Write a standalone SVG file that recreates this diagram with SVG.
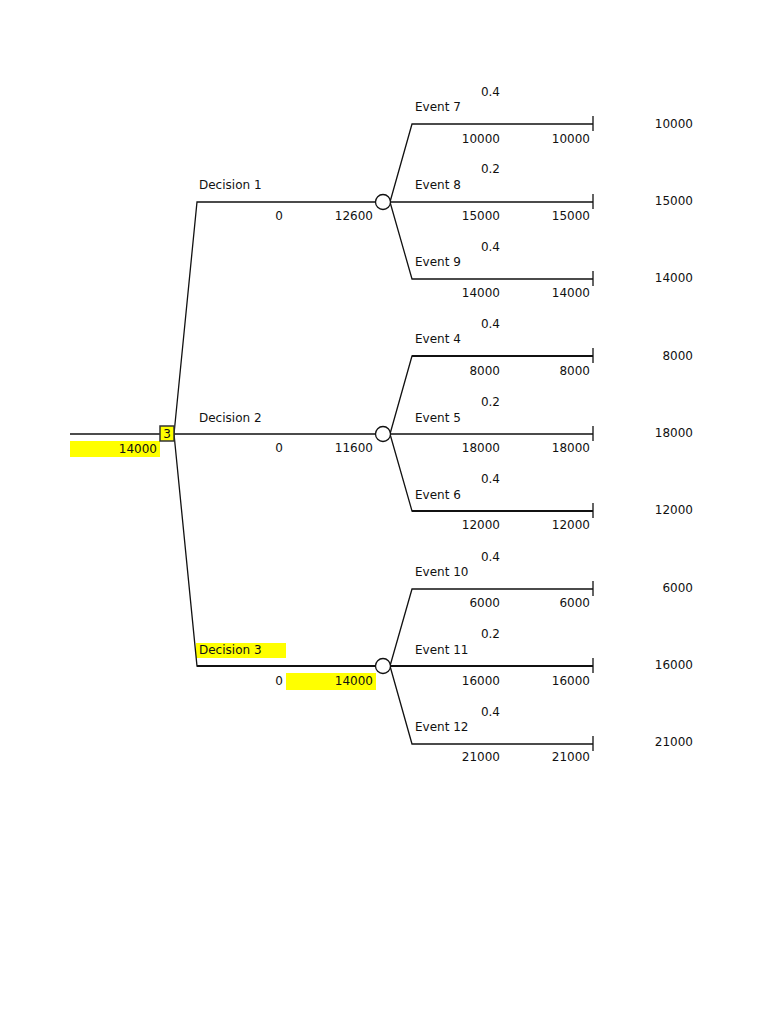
<svg xmlns="http://www.w3.org/2000/svg" width="768" height="1024" viewBox="0 0 768 1024">
<style>
text{font-family:"DejaVu Sans",Verdana,sans-serif;font-size:12px;fill:#111}
.r{text-anchor:end}
.l{stroke:#111;stroke-width:1.3;fill:none}
.b{stroke-width:2}
.hl{fill:#ffff00}
</style>
<rect fill="#fff" width="768" height="1024"/>
<g id="highlights">
<rect class="hl" x="70" y="441" width="90" height="16"/>
<rect class="hl" x="196" y="643" width="90" height="15"/>
<rect class="hl" x="286" y="673" width="90" height="17"/>
</g>
<g id="connectors">
<path class="l" d="M70 434H160"/>
<path class="l" d="M174 434L197 202H376M174 434H376M174 434L197 666H376"/>
<path class="l b" d="M197 666H376"/>
<path class="l" d="M390 202L412 124H593M390 202H593M390 202L412 279H593"/>
<path class="l" d="M390 434L412 356H593M390 434H593M390 434L412 511H593"/>
<path class="l b" d="M412 356H593M412 511H593"/>
<path class="l" d="M390 666L412 589H593M390 666H593M390 666L412 744H593"/>
<path class="l b" d="M390 666H593"/>
<path class="l" d="M593 116v15M593 194v15M593 271v15M593 348v15M593 426v15M593 503v15M593 581v15M593 658v15M593 736v15"/>
</g>
<g id="decision-node">
<rect x="160" y="426" width="14" height="15" fill="#ffff00" stroke="#333" stroke-width="1.5"/>
<text x="167" y="438" text-anchor="middle">3</text>
<text class="r" x="157" y="453">14000</text>
</g>
<g id="chance1"><circle cx="383" cy="202" r="7.5" fill="#fff" stroke="#111" stroke-width="1.3"/>
<text x="199" y="189">Decision 1</text><text class="r" x="283" y="220">0</text><text class="r" x="373" y="220">12600</text></g>
<g id="chance2"><circle cx="383" cy="434" r="7.5" fill="#fff" stroke="#111" stroke-width="1.3"/>
<text x="199" y="422">Decision 2</text><text class="r" x="283" y="452">0</text><text class="r" x="373" y="452">11600</text></g>
<g id="chance3"><circle cx="383" cy="666" r="7.5" fill="#fff" stroke="#111" stroke-width="1.3"/>
<text x="199" y="654">Decision 3</text><text class="r" x="283" y="685">0</text><text class="r" x="373" y="685">14000</text></g>
<g id="e7"><text class="r" x="500" y="96">0.4</text><text x="415" y="111">Event 7</text><text class="r" x="500" y="143">10000</text><text class="r" x="590" y="143">10000</text><text class="r" x="693" y="128">10000</text></g>
<g id="e8"><text class="r" x="500" y="173">0.2</text><text x="415" y="189">Event 8</text><text class="r" x="500" y="220">15000</text><text class="r" x="590" y="220">15000</text><text class="r" x="693" y="205">15000</text></g>
<g id="e9"><text class="r" x="500" y="251">0.4</text><text x="415" y="266">Event 9</text><text class="r" x="500" y="297">14000</text><text class="r" x="590" y="297">14000</text><text class="r" x="693" y="282">14000</text></g>
<g id="e4"><text class="r" x="500" y="328">0.4</text><text x="415" y="343">Event 4</text><text class="r" x="500" y="375">8000</text><text class="r" x="590" y="375">8000</text><text class="r" x="693" y="360">8000</text></g>
<g id="e5"><text class="r" x="500" y="406">0.2</text><text x="415" y="422">Event 5</text><text class="r" x="500" y="452">18000</text><text class="r" x="590" y="452">18000</text><text class="r" x="693" y="437">18000</text></g>
<g id="e6"><text class="r" x="500" y="483">0.4</text><text x="415" y="499">Event 6</text><text class="r" x="500" y="529">12000</text><text class="r" x="590" y="529">12000</text><text class="r" x="693" y="514">12000</text></g>
<g id="e10"><text class="r" x="500" y="561">0.4</text><text x="415" y="576">Event 10</text><text class="r" x="500" y="607">6000</text><text class="r" x="590" y="607">6000</text><text class="r" x="693" y="592">6000</text></g>
<g id="e11"><text class="r" x="500" y="638">0.2</text><text x="415" y="654">Event 11</text><text class="r" x="500" y="685">16000</text><text class="r" x="590" y="685">16000</text><text class="r" x="693" y="669">16000</text></g>
<g id="e12"><text class="r" x="500" y="716">0.4</text><text x="415" y="731">Event 12</text><text class="r" x="500" y="761">21000</text><text class="r" x="590" y="761">21000</text><text class="r" x="693" y="746">21000</text></g>
</svg>
